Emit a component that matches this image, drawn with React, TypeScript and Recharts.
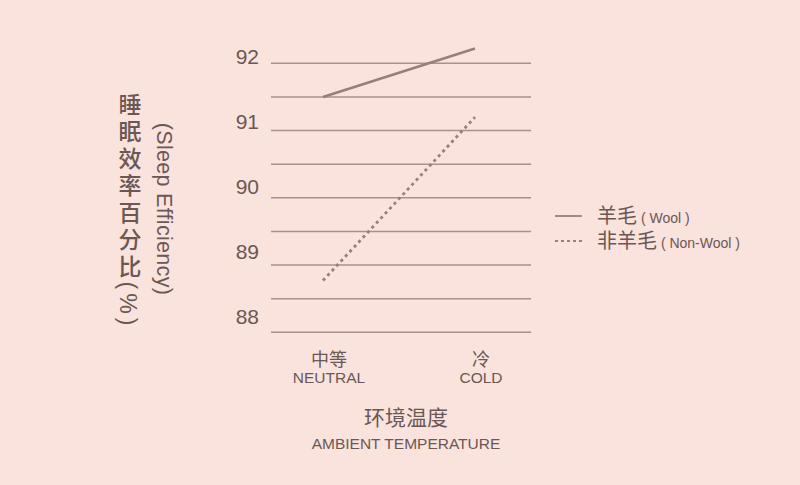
import React from 'react';
import { LineChart, Line, XAxis, YAxis, CartesianGrid, Legend } from 'recharts';

// categories on the x axis
const categoriesZh = ['中等', '冷'];
const categoriesEn = ['NEUTRAL', 'COLD'];

// sleep efficiency (%)
const woolValues = [91.5, 92.22];
const nonWoolValues = [88.77, 91.2];

const seriesZh = ['羊毛', '非羊毛'];
const seriesEn = ['( Wool )', '( Non-Wool )'];

const gridTicks = [88, 88.5, 89, 89.5, 90, 90.5, 91, 91.5, 92];
const labelTicks = [88, 89, 90, 91, 92];

const data = categoriesZh.map((zh, i) => ({
  zh,
  en: categoriesEn[i],
  wool: woolValues[i],
  nonWool: nonWoolValues[i],
}));

const BG = '#fae2dd';
const TEXT = '#6b5854';
const GRID = '#a8928e';
const LINE = '#977f7b';
const FONT = "'Liberation Sans', 'Noto Sans CJK SC', sans-serif";

const NoTick = () => null;

const XTick = (props: any) => {
  const { x, y, payload, index } = props;
  return (
    <g>
      <text x={x + 6} y={y + 34} textAnchor="middle" fontSize={18} fill={TEXT} fontFamily={FONT}>
        {payload.value}
      </text>
      <text x={x + 6} y={y + 51} textAnchor="middle" fontSize={15.5} fill={TEXT} fontFamily={FONT}>
        {categoriesEn[index]}
      </text>
    </g>
  );
};

const XTitle = (props: any) => {
  const { viewBox } = props;
  const cx = viewBox.x + viewBox.width / 2 + 5;
  return (
    <g>
      <text x={cx} y={viewBox.y + 93} textAnchor="middle" fontSize={21} fill={TEXT} fontFamily={FONT}>
        环境温度
      </text>
      <text x={cx} y={viewBox.y + 117} textAnchor="middle" fontSize={15.5} fill={TEXT} fontFamily={FONT}>
        AMBIENT TEMPERATURE
      </text>
    </g>
  );
};

// vertical titles, CJK upright and latin turned, as in the picture
const YTitle = () => (
  <g>
    <text
      x={128}
      y={211}
      textAnchor="middle"
      fontSize={23}
      fontWeight={500}
      fill={TEXT}
      fontFamily={FONT}
      style={{ writingMode: 'vertical-rl', letterSpacing: 4 }}
    >
      睡眠效率百分比(%)
    </text>
    <text
      x={164}
      y={209}
      textAnchor="middle"
      fontSize={21.5}
      fill={TEXT}
      fontFamily={FONT}
      style={{ writingMode: 'vertical-rl', letterSpacing: 0.3 }}
    >
      (Sleep Efficiency)
    </text>
  </g>
);

const renderLegend = (props: any) => {
  const { payload = [] } = props;
  return (
    <svg width={230} height={55}>
      {payload.map((entry: any, i: number) => {
        const idx = Math.max(0, seriesZh.indexOf(entry.value));
        const y = 16 + i * 25;
        const dash = entry.payload?.strokeDasharray ? '3 3' : undefined;
        return (
          <g key={entry.value}>
            <line x1={5} x2={32} y1={y} y2={y} stroke={LINE} strokeWidth={1.8} strokeDasharray={dash} />
            <text x={47} y={y + 7} fill={TEXT} fontFamily={FONT} fontSize={20}>
              {seriesZh[idx]}
              <tspan fontSize={14}>{' ' + seriesEn[idx]}</tspan>
            </text>
          </g>
        );
      })}
    </svg>
  );
};

export default function App() {
  return (
    <div style={{ position: 'fixed', left: 0, top: 0, width: 800, height: 485, background: BG }}>
      <LineChart
        width={800}
        height={485}
        data={data}
        margin={{ top: 29.7, right: 269, left: 211, bottom: 52.7 }}
      >
        <CartesianGrid horizontal vertical={false} syncWithTicks stroke={GRID} strokeWidth={1.5} />
        <XAxis
          dataKey="zh"
          axisLine={false}
          tickLine={false}
          tickSize={0}
          tickMargin={0}
          height={100}
          padding={{ left: 52, right: 56 }}
          tick={<XTick />}
          interval={0}
          label={<XTitle />}
        />
        <YAxis
          type="number"
          domain={[88, 92.5]}
          allowDataOverflow
          ticks={gridTicks}
          interval={0}
          width={0}
          tick={NoTick}
          axisLine={false}
          tickLine={false}
        />
        <YAxis
          yAxisId="lab"
          type="number"
          domain={[87.75, 92.42]}
          allowDataOverflow
          ticks={labelTicks}
          interval={0}
          width={60}
          axisLine={false}
          tickLine={false}
          tickSize={0}
          tickMargin={12}
          tick={{ fill: TEXT, fontSize: 21, fontFamily: FONT }}
          label={<YTitle />}
        />
        <Legend
          layout="vertical"
          align="center"
          verticalAlign="middle"
          content={renderLegend}
          wrapperStyle={{ left: 550, top: 200, width: 230 }}
        />
        <Line
          type="linear"
          dataKey="wool"
          name={seriesZh[0]}
          stroke={LINE}
          strokeWidth={2.5}
          dot={false}
          activeDot={false}
          isAnimationActive={false}
        />
        <Line
          type="linear"
          dataKey="nonWool"
          name={seriesZh[1]}
          stroke={LINE}
          strokeWidth={2.8}
          strokeDasharray="3 3.5"
          dot={false}
          activeDot={false}
          isAnimationActive={false}
        />
      </LineChart>
    </div>
  );
}
